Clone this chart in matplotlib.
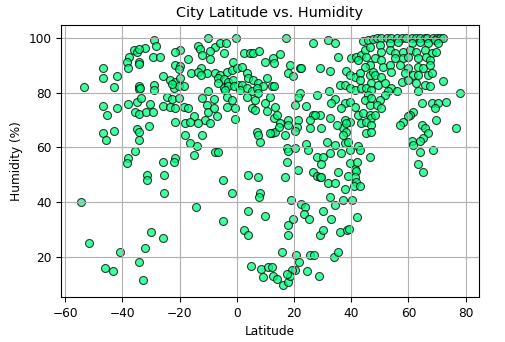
import matplotlib.pyplot as plt

# latitude / humidity values, grouped by region of the plot

# far south, upper half
lat_sw = [-53.3, -46.6, -46.6, -41.7, -42.9, -46.6, -45.4, -41.9, -46.8, -45.8,
          -42.9, -37.9, -35.0, -33.4, -30.3, -35.5, -34.1, -31.7, -29.4, -30.5,
          -34.7, -34.0, -34.1, -35.5, -38.1, -28.8, -28.4, -32.0, -35.9, -35.0,
          -34.2, -37.6, -38.4, -38.1, -34.1, -34.0, -29.1, -26.8, -25.7, -34.1,
          -34.3, -33.8, -28.9, -28.8, -25.7]
hum_sw = [81.9, 89.1, 85.2, 85.9, 81.9, 75.1, 71.9, 74.2, 65.2, 62.8,
          66.1, 75.9, 76.7, 77.9, 75.9, 72.8, 72.1, 72.8, 72.8, 68.0,
          66.8, 65.6, 62.8, 58.9, 56.1, 99.1, 96.8, 96.1, 95.5, 94.9,
          95.8, 92.8, 91.3, 89.1, 91.0, 90.3, 92.8, 92.8, 86.1, 82.5,
          81.2, 81.8, 82.8, 81.0, 75.1]

# far south, lower half
lat_sw_low = [-54.5, -51.6, -40.8, -46.0, -43.3, -34.1, -32.9, -32.0, -29.8, -25.9,
              -38.4, -31.5, -31.5, -25.6, -25.6, -25.9]
hum_sw_low = [40.0, 25.1, 21.8, 16.0, 15.2, 18.3, 11.9, 23.3, 29.1, 26.9,
              54.2, 50.1, 48.3, 50.1, 43.3, 54.8]

# tropics, upper half
lat_eq = [-9.9, -0.2, -13.4, -13.0, -7.6, -5.8, -3.8, -9.3, -19.8, -21.5,
          -12.2, -4.3, -17.1, -9.3, 2.7, 4.7, 5.6, 7.8, -1.2, 9.9,
          -21.5, -19.8, -20.1, -12.4, -10.5, -7.6, -5.8, -3.5, -1.7, 0.0,
          1.8, 3.5, -15.9, -13.4, -12.4, -23.3, -21.5, -19.8, -22.1,
          -20.3, -18.6, -22.7, -6.4, -4.6, -2.9, -1.2, 0.4, 2.0, 4.1,
          5.8, 7.6, 9.3, 10.5, -6.4, -4.6, -2.9, -0.8, 1.2, 3.5,
          5.3, 7.0, -12.2, -9.9, -8.1, -4.1, -3.5, -1.7, 3.5, 6.4,
          7.6, 9.9, -24.4, -22.7, -20.3, -23.3, -21.5, -18.6, -16.9, -10.5,
          -9.9, -8.1, -3.5, -0.6, 5.3, 6.4, 10.5, -15.1, -11.0, -7.0,
          -13.4, -18.0, -9.3, -21.5, -16.3, -0.6, -18.0, -12.0, -16.3, -14.0,
          -15.1, -7.6, -6.4, 7.0, 7.6, 8.2, -21.5]
hum_eq = [100.0, 100.0, 97.1, 95.9, 96.7, 97.9, 97.9, 95.1, 95.5, 94.7,
          93.7, 94.3, 92.1, 92.1, 94.3, 94.3, 94.3, 95.1, 91.3, 91.3,
          90.1, 89.8, 88.6, 89.1, 87.0, 87.0, 86.4, 87.6, 88.2, 89.1,
          89.4, 87.0, 87.0, 87.4, 86.4, 84.6, 84.0, 85.4, 81.8,
          82.5, 82.5, 83.0, 85.4, 85.0, 84.0, 84.6, 82.8, 82.8, 85.2,
          84.6, 83.4, 82.2, 85.2, 83.4, 81.6, 82.2, 82.2, 81.0, 81.6,
          80.4, 81.6, 77.9, 80.4, 77.7, 81.0, 78.5, 77.3, 78.5, 77.3,
          79.8, 76.1, 78.5, 77.7, 77.9, 74.9, 74.3, 74.9, 74.3, 75.5,
          72.8, 74.3, 74.9, 74.3, 74.5, 73.7, 73.1, 71.6, 70.1, 71.3,
          68.8, 68.8, 68.8, 69.4, 69.4, 70.4, 64.4, 64.4, 61.6, 60.4,
          57.3, 58.3, 58.3, 65.8, 64.6, 61.9, 56.1]

# tropics, lower half
lat_eq_low = [-22.1, -4.9, -1.7, -14.2, -4.9, 3.8, 7.3, 8.1, 7.8, 3.8,
              9.9, 2.7, 3.8, 5.0, 8.5, 9.3, 11.0]
hum_eq_low = [54.6, 48.1, 43.3, 38.2, 33.1, 50.1, 49.3, 43.3, 41.8, 36.7,
              35.2, 30.1, 28.3, 16.7, 15.8, 13.0, 16.4]

# northern mid latitudes, upper half
lat_mid = [17.2, 26.5, 32.0, 34.3, 12.8, 15.1, 13.0, 18.6, 18.0, 19.7,
           22.1, 22.6, 29.0, 32.5, 35.4, 38.3, 40.1, 41.8, 43.6, 42.4,
           44.7, 44.2, 45.9, 47.6, 46.5, 45.3, 46.5, 44.7,
           39.5, 41.3, 43.2, 43.0, 46.5, 47.1, 47.6, 36.0, 37.8, 39.5,
           41.3, 43.6, 45.3, 47.1, 45.9, 37.8, 39.5, 41.3, 44.7, 46.5,
           47.1, 36.6, 42.4, 44.2, 46.5, 47.1, 37.8, 39.5, 43.6, 45.3,
           47.1, 37.2, 38.3, 45.3, 47.1,
           12.2, 13.0, 11.6, 13.3, 13.0, 14.2, 12.2, 13.3,
           22.1, 21.5, 20.3, 24.2, 27.9, 32.3, 34.3, 33.1, 29.0, 32.5,
           26.7, 27.3, 25.6, 21.5, 18.0, 15.1, 18.0, 20.9, 16.8, 14.9,
           20.3, 25.6, 29.6, 34.9, 37.2, 38.3, 17.4, 18.0, 20.3, 24.2,
           25.0, 27.9, 30.2, 31.4, 32.5, 34.3, 36.6, 37.8, 38.9, 39.5,
           42.4, 43.0, 46.5, 11.6]
hum_mid = [100.0, 97.9, 99.1, 97.9, 92.5, 93.9, 90.7, 90.1, 87.0, 86.2,
           89.1, 89.1, 89.1, 87.9, 92.8, 87.9, 92.7, 93.1, 93.7, 91.9,
           95.5, 98.8, 99.1, 99.5, 96.7, 93.1, 90.1, 89.4,
           86.4, 85.8, 87.0, 84.6, 86.4, 83.4, 87.6, 82.8, 82.8, 81.6,
           81.0, 81.6, 81.6, 81.0, 79.1, 76.1, 76.7, 74.9, 77.3, 75.5,
           77.9, 74.3, 71.9, 72.5, 71.9, 70.7, 70.1, 69.4, 68.8, 69.4,
           68.2, 67.0, 65.8, 65.2, 65.8,
           82.2, 82.2, 78.5, 74.9, 70.7, 71.9, 65.2, 65.8,
           79.8, 78.5, 75.5, 75.1, 79.1, 80.4, 77.7, 76.1, 71.9, 70.9,
           71.9, 71.9, 70.1, 70.1, 70.1, 68.8, 68.2, 67.6, 64.6, 67.6,
           66.1, 67.0, 67.0, 68.2, 64.6, 68.8, 59.8, 58.8, 59.8, 61.2,
           59.1, 56.7, 56.7, 61.9, 57.9, 61.0, 57.9, 61.6, 61.9, 59.1,
           60.4, 59.1, 56.7, 65.2]

# northern mid latitudes, lower half
lat_mid_low = [17.4, 21.3, 16.8, 29.6, 26.5, 27.9, 29.0, 29.6, 32.0, 34.3,
               35.4, 37.8, 38.9, 41.3, 41.8, 41.3, 41.6, 40.9, 43.2, 39.5,
               42.1, 32.5, 34.3, 37.0, 40.4, 42.1, 18.8, 22.3, 23.8, 23.5,
               25.3, 19.5, 17.8, 17.8, 30.2, 32.9, 29.0, 30.2, 36.0, 38.6,
               39.3, 15.7, 20.7, 25.6, 27.0, 33.9, 35.4, 21.8, 20.3, 19.2,
               24.6, 28.8, 12.2, 12.8, 13.9, 16.3, 18.0, 18.6, 17.5]
hum_mid_low = [54.6, 51.8, 49.3, 54.0, 50.9, 49.7, 49.3, 49.1, 46.9, 46.9,
               50.9, 44.9, 49.7, 52.1, 51.5, 49.1, 47.6, 46.1, 46.1, 54.2,
               54.6, 41.8, 39.2, 40.9, 40.9, 34.8, 40.9, 39.4, 38.2, 35.8,
               33.9, 33.9, 31.9, 28.3, 36.7, 33.9, 28.3, 30.0, 29.1, 30.0,
               30.3, 22.1, 21.0, 21.0, 21.0, 20.0, 22.1, 18.2, 15.4, 15.4,
               15.2, 13.1, 16.4, 13.3, 12.1, 10.0, 10.9, 13.3, 14.0]

# high northern latitudes
lat_north = [48.9, 50.6, 52.4, 54.1, 55.9, 57.6, 59.3, 61.1, 62.8, 64.0,
             65.7, 66.5, 68.6, 70.0, 71.0, 72.1,
             50.0, 53.5, 56.4, 61.1, 64.0, 66.9, 69.2, 70.4,
             50.6, 53.5, 55.3, 58.2, 60.5, 62.8, 65.7, 68.1, 69.8,
             48.3, 50.6, 55.3, 58.2, 59.9, 63.4, 66.3, 67.5,
             51.2, 53.5, 57.0, 59.9, 63.4, 65.2, 67.5,
             48.3, 50.6, 54.1, 58.8, 61.7, 63.4, 66.9, 68.1,
             49.5, 51.8, 54.1, 57.6, 59.9, 62.8, 65.7, 67.5, 72.1,
             53.0, 55.9, 63.4, 78.0, 51.8, 50.0, 48.9, 50.6, 48.3,
             64.6, 68.1, 70.4, 73.3, 69.2, 61.7, 60.5, 59.9, 58.2, 57.0,
             69.6, 64.6, 65.7, 66.9, 65.2, 64.0, 61.3, 61.7, 76.8, 68.6,
             64.0, 63.2, 65.2]
hum_north = [100.0, 100.0, 100.0, 100.0, 100.0, 100.0, 100.0, 100.0, 100.0, 100.0,
             100.0, 100.0, 100.0, 100.0, 100.0, 100.0,
             97.3, 97.9, 98.5, 97.9, 98.5, 97.9, 99.1, 97.9,
             94.9, 95.5, 94.3, 94.9, 95.5, 94.9, 95.5, 94.3, 94.9,
             92.5, 91.9, 92.7, 92.5, 93.1, 92.5, 93.1, 91.9,
             89.4, 90.1, 90.1, 88.8, 89.4, 88.8, 90.1,
             86.4, 85.8, 87.6, 87.0, 86.4, 86.4, 86.4, 87.0,
             82.8, 83.4, 81.6, 84.0, 84.6, 83.4, 82.8, 82.2, 84.2,
             80.4, 80.4, 80.4, 79.8, 79.1, 77.3, 75.5, 74.3, 71.9,
             76.1, 76.1, 76.1, 76.7, 74.3, 72.8, 71.9, 71.3, 69.4, 68.2,
             70.1, 68.2, 67.0, 65.2, 63.4, 62.2, 62.2, 61.0, 67.0, 59.1,
             58.3, 53.9, 50.9]

lat = lat_sw + lat_sw_low + lat_eq + lat_eq_low + lat_mid + lat_mid_low + lat_north
hum = hum_sw + hum_sw_low + hum_eq + hum_eq_low + hum_mid + hum_mid_low + hum_north

fig = plt.figure(figsize=(5.05, 3.42), dpi=100)
ax = fig.add_axes([0.121, 0.131, 0.827, 0.796])
ax.scatter(lat, hum, s=33, facecolors='springgreen', edgecolors='black',
           linewidths=0.8, alpha=0.75)
ax.set_title('City Latitude vs. Humidity', fontsize=10.4)
ax.set_xlabel('Latitude', fontsize=8.7)
ax.set_ylabel('Humidity (%)', fontsize=8.7)
ax.tick_params(labelsize=8.7)
ax.set_xlim(-61.4, 84.6)
ax.set_ylim(5.5, 104.6)
ax.grid(True)
fig.savefig('out.png', dpi=100)
